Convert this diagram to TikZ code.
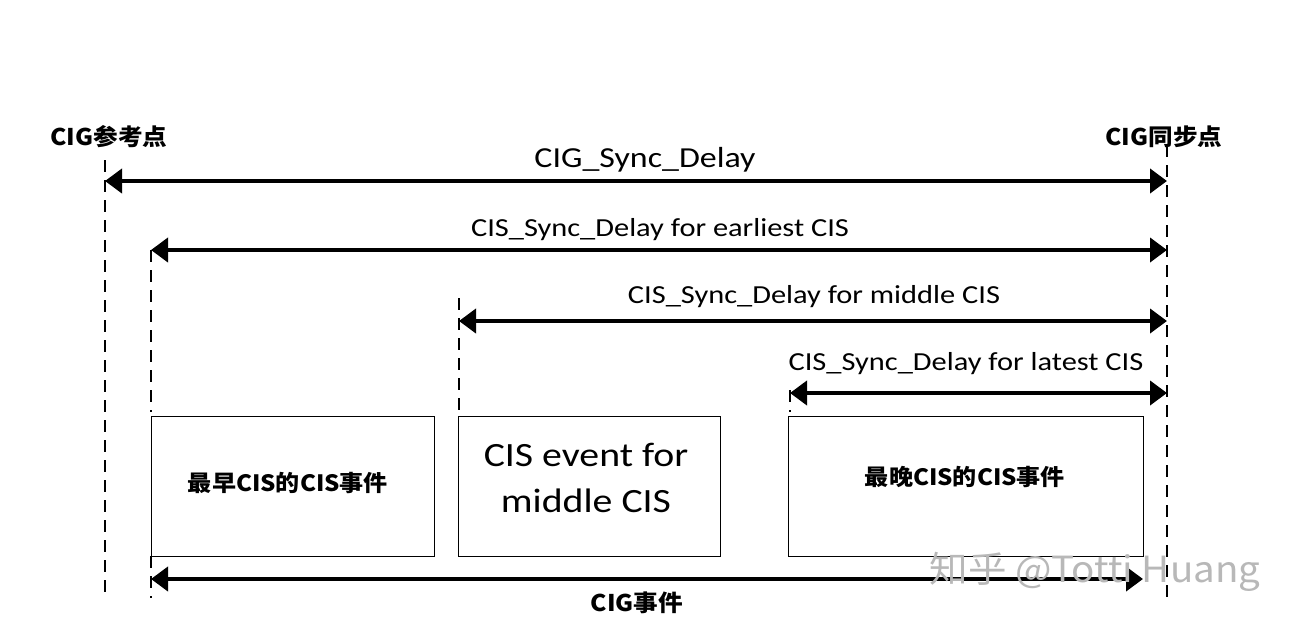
\documentclass[tikz,border=0pt]{standalone}
\usepackage{fontspec}
\usetikzlibrary{arrows.meta}
\newfontfamily\latf[FakeStretch=1.17]{Carlito}
\newfontfamily\cjkf[FakeStretch=1.07]{Noto Sans CJK SC}
\begin{document}
\begin{tikzpicture}[x=1pt,y=-1pt,
  guide/.style={line width=1.4pt,dash pattern=on 12pt off 8pt},
  span/.style={line width=4pt,{Triangle[length=17pt,width=24pt]}-{Triangle[length=17pt,width=24pt]}},
  evbox/.style={draw,line width=1pt,minimum width=#1,minimum height=140pt,anchor=north west,inner sep=0pt},
  lbl/.style={inner sep=0pt,font=\latf\fontsize{26}{30}\selectfont},
  cjklbl/.style={inner sep=0pt,font=\cjkf\bfseries\fontsize{23}{27}\selectfont}]
\useasboundingbox (0,0) rectangle (1294,629);
\fill[white] (0,0) rectangle (1294,629);
% guide coordinates
\coordinate (refT) at (105,160);
\coordinate (refB) at (105,598);
\coordinate (syncT) at (1167,145);
\coordinate (syncB) at (1167,598);
\coordinate (e1T) at (151,250);
\coordinate (e1B) at (151,412);
\coordinate (e1C) at (151,556);
\coordinate (e1D) at (151,598);
\coordinate (m1T) at (459,298);
\coordinate (m1B) at (459,412);
\coordinate (l1T) at (790,390);
\coordinate (l1B) at (790,412);
% dashed guides
\draw[guide] (refT) -- (refB);
\draw[guide] (syncT) -- (syncB);
\draw[guide] (e1T) -- (e1B);
\draw[guide] (e1C) -- (e1D);
\draw[guide] (m1T) -- (m1B);
\draw[guide] (l1T) -- (l1B);
% top labels
\node[cjklbl] (ref) at (109,137) {CIG参考点};
\node[cjklbl] (sync) at (1164,137) {CIG同步点};
% arrows
\coordinate (a1L) at (105,181);
\coordinate (a1R) at (1167,181);
\draw[span] (a1L) -- (a1R);
\node[lbl,font=\latf\fontsize{29}{32}\selectfont] (t1) at (645,160) {CIG\_Sync\_Delay};
\coordinate (a2L) at (151,250);
\coordinate (a2R) at (1167,250);
\draw[span] (a2L) -- (a2R);
\node[lbl] (t2) at (660,230) {CIS\_Sync\_Delay for earliest CIS};
\coordinate (a3L) at (459,321);
\coordinate (a3R) at (1167,321);
\draw[span] (a3L) -- (a3R);
\node[lbl] (t3) at (814,297) {CIS\_Sync\_Delay for middle CIS};
\coordinate (a4L) at (790,393);
\coordinate (a4R) at (1167,393);
\draw[span] (a4L) -- (a4R);
\node[lbl] (t4) at (966,364) {CIS\_Sync\_Delay for latest CIS};
% event boxes
\node[evbox=283pt] (b1) at (151,416) {};
\node[evbox=262pt] (b2) at (458,416) {};
\node[evbox=355pt] (b3) at (788,416) {};
\node[cjklbl,font=\cjkf\bfseries\fontsize{22.5}{27}\selectfont] (b1t) at (288,483) {最早CIS的CIS事件};
\node[inner sep=0pt,align=center,font=\latf\fontsize{34}{46}\selectfont] (b2t) at (586,478) {CIS event for\\middle CIS};
\node[cjklbl,font=\cjkf\bfseries\fontsize{22.5}{27}\selectfont] (b3t) at (965,477) {最晚CIS的CIS事件};
% bottom arrow
\coordinate (a5L) at (151,579);
\coordinate (a5R) at (1143,579);
\draw[span] (a5L) -- (a5R);
\node[cjklbl] (cig) at (637,603) {CIG事件};
% watermark
\node[inner sep=0pt,text=black!28,font=\cjkf\fontsize{36}{40}\selectfont] (wm) at (1095,572) {知乎 @Totti Huang};
\end{tikzpicture}
\end{document}
